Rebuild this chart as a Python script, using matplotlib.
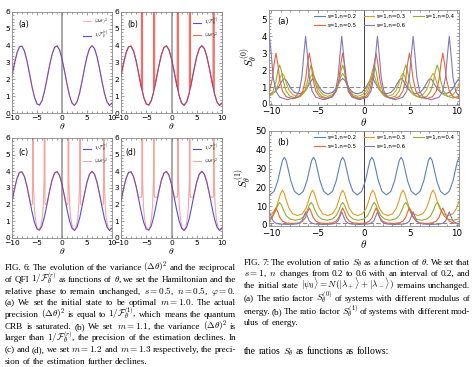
import matplotlib
matplotlib.use('Agg')
import matplotlib.pyplot as plt
from matplotlib.ticker import MultipleLocator

plt.rcParams['mathtext.fontset'] = 'cm'
plt.rcParams['font.family'] = 'DejaVu Sans'

# ---------------- FIG. 6 data: variance and 1/F versus theta ----------------
theta6 = [-10, -9.5, -9, -8.5, -8, -7.5, -7, -6.5, -6, -5.5, -5, -4.5, -4, -3.5, -3, -2.5, -2, -1.5, -1, -0.5,
          0, 0.5, 1, 1.5, 2, 2.5, 3, 3.5, 4, 4.5, 5, 5.5, 6, 6.5, 7, 7.5, 8, 8.5, 9, 9.5, 10]
inv_qfi = [2.19, 2.95, 3.57, 3.94, 3.97, 3.67, 3.09, 2.34, 1.57, 0.93, 0.54, 0.47, 0.73, 1.29, 2.03, 2.80, 3.47, 3.89, 3.99, 3.76,
           3.22, 2.50, 1.72, 1.04, 0.59, 0.45, 0.66, 1.16, 1.88, 2.65, 3.35, 3.83, 4.00, 3.83, 3.35, 2.65, 1.87, 1.16, 0.66, 0.45, 0.59]

# (a) m = 1.0 : variance equals 1/F
var_a = inv_qfi

# (b) m = 1.1
theta_b = [-10, -9.5, -9, -8.5, -8, -7.5, -7, -6.5, -6, -5.97, -5.93, -5.77, -5.73, -5.5, -5, -4.5, -4,
           -3.57, -3.53, -3.37, -3.33, -3, -2.5, -2, -1.5, -1, -0.5, 0, 0.5, 1, 1.13, 1.17, 1.33, 1.37,
           1.5, 2, 2.5, 3, 3.5, 3.53, 3.57, 3.73, 3.77, 4, 4.5, 5, 5.5, 6, 6.5, 7, 7.5, 8,
           8.23, 8.27, 8.43, 8.47, 8.5, 9, 9.5, 10]
var_b = [2.19, 2.95, 3.57, 3.94, 3.97, 3.67, 3.09, 2.34, 1.57, 1.53, 30, 30, 1.24, 0.93, 0.54, 0.47, 0.73,
         1.21, 30, 30, 1.54, 2.03, 2.80, 3.47, 3.89, 3.99, 3.76, 3.22, 2.50, 1.72, 1.54, 30, 30, 1.22,
         1.04, 0.59, 0.45, 0.66, 1.16, 1.20, 30, 30, 1.49, 1.88, 2.65, 3.35, 3.83, 4.00, 3.83, 3.35, 2.65, 1.87,
         1.54, 30, 30, 1.20, 1.16, 0.66, 0.45, 0.59]

# (c) m = 1.2
theta_c = [-10, -9.5, -9, -8.5, -8, -7.5, -7, -6.5, -6.28, -6.0, -5.9, -5.86, -5.84, -5.73, -5.55, -5.35,
           -5.0, -4.65, -4.3, -3.95, -3.75, -3.57, -3.46, -3.44, -3.4, -3.3, -3.02, -2.5, -2, -1.5, -1,
           -0.5, 0, 0.5, 0.82, 1.1, 1.2, 1.24, 1.26, 1.37, 1.55, 1.75, 2.1, 2.45, 2.8, 3.15, 3.35, 3.53,
           3.64, 3.66, 3.7, 3.8, 4.08, 4.5, 5, 5.5, 6, 6.5, 7, 7.5, 7.92, 8.2, 8.3, 8.34, 8.36, 8.47,
           8.65, 8.85, 9.2, 9.55, 10]
var_c = [2.19, 2.95, 3.57, 3.94, 3.97, 3.67, 3.09, 2.34, 2.0, 2.0, 2.1, 30, 30, 3.5, 1.9, 1.2,
         0.62, 0.5, 0.62, 1.2, 1.9, 3.5, 30, 30, 2.1, 2.0, 2.0, 2.80, 3.47, 3.89, 3.99,
         3.76, 3.22, 2.50, 2.0, 2.0, 2.1, 30, 30, 3.5, 1.9, 1.2, 0.62, 0.5, 0.62, 1.2, 1.9, 3.5,
         30, 30, 2.1, 2.0, 2.0, 2.65, 3.35, 3.83, 4.00, 3.83, 3.35, 2.65, 2.0, 2.0, 2.1, 30, 30, 3.5,
         1.9, 1.2, 0.62, 0.5, 0.62]

# (d) m = 1.3
theta_d = [-10, -9.5, -9, -8.5, -8, -7.5, -7, -6.57, -5.95, -5.88, -5.86, -5.84, -5.73, -5.55, -5.35,
           -5.0, -4.65, -4.3, -3.95, -3.75, -3.57, -3.46, -3.44, -3.42, -3.35, -2.73, -2.5, -2, -1.5,
           -1, -0.5, 0, 0.53, 1.15, 1.22, 1.24, 1.26, 1.37, 1.55, 1.75, 2.1, 2.45, 2.8, 3.15, 3.35,
           3.53, 3.64, 3.66, 3.68, 3.75, 4.37, 4.5, 5, 5.5, 6, 6.5, 7, 7.5, 7.63, 8.25, 8.32, 8.34,
           8.36, 8.47, 8.65, 8.85, 9.2, 9.55, 10]
var_d = [2.19, 2.95, 3.57, 3.94, 3.97, 3.67, 3.09, 2.45, 2.45, 2.6, 30, 30, 3.5, 1.9, 1.2,
         0.62, 0.5, 0.62, 1.2, 1.9, 3.5, 30, 30, 2.6, 2.45, 2.45, 2.80, 3.47, 3.89,
         3.99, 3.76, 3.22, 2.45, 2.45, 2.6, 30, 30, 3.5, 1.9, 1.2, 0.62, 0.5, 0.62, 1.2, 1.9,
         3.5, 30, 30, 2.6, 2.45, 2.45, 2.65, 3.35, 3.83, 4.00, 3.83, 3.35, 2.65, 2.45, 2.45, 2.6, 30,
         30, 3.5, 1.9, 1.2, 0.62, 0.5, 0.62]

# ---------------- FIG. 7 data: ratios S^(0) and S^(1) ----------------
n_labels = ['s=1,n=0.2', 's=1,n=0.3', 's=1,n=0.4', 's=1,n=0.5', 's=1,n=0.6']

th02 = [-10.18, -9.7, -9.3, -9.0, -8.8, -8.6, -8.4, -8.2, -7.9, -7.5,
        -7.02, -6.55, -6.15, -5.85, -5.65, -5.45, -5.25, -5.05, -4.75, -4.35,
        -3.88, -3.4, -3.0, -2.7, -2.5, -2.3, -2.1, -1.9, -1.6, -1.2,
        -0.72, -0.25, 0.15, 0.45, 0.65, 0.85, 1.05, 1.25, 1.55, 1.95,
        2.42, 2.9, 3.3, 3.6, 3.8, 4.0, 4.2, 4.4, 4.7, 5.1,
        5.58, 6.05, 6.45, 6.75, 6.95, 7.15, 7.35, 7.55, 7.85, 8.25,
        8.72, 9.2, 9.6, 9.9, 10.1, 10.3]
s0_02 = [0.6, 0.68, 0.92, 1.22, 1.41, 1.5, 1.41, 1.22, 0.92, 0.68,
         0.6, 0.68, 0.92, 1.22, 1.41, 1.5, 1.41, 1.22, 0.92, 0.68,
         0.6, 0.68, 0.92, 1.22, 1.41, 1.5, 1.41, 1.22, 0.92, 0.68,
         0.6, 0.68, 0.92, 1.22, 1.41, 1.5, 1.41, 1.22, 0.92, 0.68,
         0.6, 0.68, 0.92, 1.22, 1.41, 1.5, 1.41, 1.22, 0.92, 0.68,
         0.6, 0.68, 0.92, 1.22, 1.41, 1.5, 1.41, 1.22, 0.92, 0.68,
         0.6, 0.68, 0.92, 1.22, 1.41, 1.5]
s1_02 = [16, 17.9, 23.5, 30.1, 34.3, 36, 34.3, 30.1, 23.5, 17.9,
         16, 17.9, 23.5, 30.1, 34.3, 36, 34.3, 30.1, 23.5, 17.9,
         16, 17.9, 23.5, 30.1, 34.3, 36, 34.3, 30.1, 23.5, 17.9,
         16, 17.9, 23.5, 30.1, 34.3, 36, 34.3, 30.1, 23.5, 17.9,
         16, 17.9, 23.5, 30.1, 34.3, 36, 34.3, 30.1, 23.5, 17.9,
         16, 17.9, 23.5, 30.1, 34.3, 36, 34.3, 30.1, 23.5, 17.9,
         16, 17.9, 23.5, 30.1, 34.3, 36]

th03 = [-10.42, -9.9, -9.5, -9.2, -9.0, -8.8, -8.6, -8.4, -8.1, -7.7,
        -7.18, -6.65, -6.25, -5.95, -5.75, -5.55, -5.35, -5.15, -4.85, -4.45,
        -3.92, -3.4, -3.0, -2.7, -2.5, -2.3, -2.1, -1.9, -1.6, -1.2,
        -0.68, -0.15, 0.25, 0.55, 0.75, 0.95, 1.15, 1.35, 1.65, 2.05,
        2.58, 3.1, 3.5, 3.8, 4.0, 4.2, 4.4, 4.6, 4.9, 5.3,
        5.82, 6.35, 6.75, 7.05, 7.25, 7.45, 7.65, 7.85, 8.15, 8.55,
        9.08, 9.6, 10.0, 10.3]
s0_03 = [0.45, 0.55, 0.83, 1.26, 1.62, 1.8, 1.62, 1.26, 0.83, 0.55,
         0.45, 0.55, 0.83, 1.26, 1.62, 1.8, 1.62, 1.26, 0.83, 0.55,
         0.45, 0.55, 0.83, 1.26, 1.62, 1.8, 1.62, 1.26, 0.83, 0.55,
         0.45, 0.55, 0.83, 1.26, 1.62, 1.8, 1.62, 1.26, 0.83, 0.55,
         0.45, 0.55, 0.83, 1.26, 1.62, 1.8, 1.62, 1.26, 0.83, 0.55,
         0.45, 0.55, 0.83, 1.26, 1.62, 1.8, 1.62, 1.26, 0.83, 0.55,
         0.45, 0.55, 0.83, 1.26]
s1_03 = [5.0, 6.0, 9.0, 13.4, 16.8, 18.5, 16.8, 13.4, 9.0, 6.0,
         5.0, 6.0, 9.0, 13.4, 16.8, 18.5, 16.8, 13.4, 9.0, 6.0,
         5.0, 6.0, 9.0, 13.4, 16.8, 18.5, 16.8, 13.4, 9.0, 6.0,
         5.0, 6.0, 9.0, 13.4, 16.8, 18.5, 16.8, 13.4, 9.0, 6.0,
         5.0, 6.0, 9.0, 13.4, 16.8, 18.5, 16.8, 13.4, 9.0, 6.0,
         5.0, 6.0, 9.0, 13.4, 16.8, 18.5, 16.8, 13.4, 9.0, 6.0,
         5.0, 6.0, 9.0, 13.4]

th04 = [-10.8, -10.2, -9.8, -9.5, -9.3, -9.1, -8.9, -8.7, -8.4, -8.0,
        -7.4, -6.8, -6.4, -6.1, -5.9, -5.7, -5.5, -5.3, -5.0, -4.6,
        -4.0, -3.4, -3.0, -2.7, -2.5, -2.3, -2.1, -1.9, -1.6, -1.2,
        -0.6, 0.0, 0.4, 0.7, 0.9, 1.1, 1.3, 1.5, 1.8, 2.2,
        2.8, 3.4, 3.8, 4.1, 4.3, 4.5, 4.7, 4.9, 5.2, 5.6,
        6.2, 6.8, 7.2, 7.5, 7.7, 7.9, 8.1, 8.3, 8.6, 9.0,
        9.6, 10.2]
s0_04 = [0.35, 0.46, 0.76, 1.33, 1.94, 2.3, 1.94, 1.33, 0.76, 0.46,
         0.35, 0.46, 0.76, 1.33, 1.94, 2.3, 1.94, 1.33, 0.76, 0.46,
         0.35, 0.46, 0.76, 1.33, 1.94, 2.3, 1.94, 1.33, 0.76, 0.46,
         0.35, 0.46, 0.76, 1.33, 1.94, 2.3, 1.94, 1.33, 0.76, 0.46,
         0.35, 0.46, 0.76, 1.33, 1.94, 2.3, 1.94, 1.33, 0.76, 0.46,
         0.35, 0.46, 0.76, 1.33, 1.94, 2.3, 1.94, 1.33, 0.76, 0.46,
         0.35, 0.46]
s1_04 = [2.5, 3.2, 5.0, 8.0, 10.6, 12.0, 10.6, 8.0, 5.0, 3.2,
         2.5, 3.2, 5.0, 8.0, 10.6, 12.0, 10.6, 8.0, 5.0, 3.2,
         2.5, 3.2, 5.0, 8.0, 10.6, 12.0, 10.6, 8.0, 5.0, 3.2,
         2.5, 3.2, 5.0, 8.0, 10.6, 12.0, 10.6, 8.0, 5.0, 3.2,
         2.5, 3.2, 5.0, 8.0, 10.6, 12.0, 10.6, 8.0, 5.0, 3.2,
         2.5, 3.2, 5.0, 8.0, 10.6, 12.0, 10.6, 8.0, 5.0, 3.2,
         2.5, 3.2]

th05 = [-10.6, -10.2, -9.9, -9.7, -9.5, -9.3, -9.1, -8.8, -8.4,
        -7.7, -7.0, -6.6, -6.3, -6.1, -5.9, -5.7, -5.5, -5.2, -4.8,
        -4.1, -3.4, -3.0, -2.7, -2.5, -2.3, -2.1, -1.9, -1.6, -1.2,
        -0.5, 0.2, 0.6, 0.9, 1.1, 1.3, 1.5, 1.7, 2.0, 2.4,
        3.1, 3.8, 4.2, 4.5, 4.7, 4.9, 5.1, 5.3, 5.6, 6.0,
        6.7, 7.4, 7.8, 8.1, 8.3, 8.5, 8.7, 8.9, 9.2, 9.6,
        10.3]
s0_05 = [0.43, 0.76, 1.46, 2.36, 3.0, 2.36, 1.46, 0.76, 0.43,
         0.3, 0.43, 0.76, 1.46, 2.36, 3.0, 2.36, 1.46, 0.76, 0.43,
         0.3, 0.43, 0.76, 1.46, 2.36, 3.0, 2.36, 1.46, 0.76, 0.43,
         0.3, 0.43, 0.76, 1.46, 2.36, 3.0, 2.36, 1.46, 0.76, 0.43,
         0.3, 0.43, 0.76, 1.46, 2.36, 3.0, 2.36, 1.46, 0.76, 0.43,
         0.3, 0.43, 0.76, 1.46, 2.36, 3.0, 2.36, 1.46, 0.76, 0.43,
         0.3]
s1_05 = [1.1, 2.1, 4.1, 6.9, 9.0, 6.9, 4.1, 2.1, 1.1,
         0.8, 1.1, 2.1, 4.1, 6.9, 9.0, 6.9, 4.1, 2.1, 1.1,
         0.8, 1.1, 2.1, 4.1, 6.9, 9.0, 6.9, 4.1, 2.1, 1.1,
         0.8, 1.1, 2.1, 4.1, 6.9, 9.0, 6.9, 4.1, 2.1, 1.1,
         0.8, 1.1, 2.1, 4.1, 6.9, 9.0, 6.9, 4.1, 2.1, 1.1,
         0.8, 1.1, 2.1, 4.1, 6.9, 9.0, 6.9, 4.1, 2.1, 1.1,
         0.8]

th06 = [-10.2, -10.0, -9.8, -9.5, -9.1,
        -8.25, -7.4, -7.0, -6.7, -6.5, -6.3, -6.1, -5.9, -5.6, -5.2,
        -4.35, -3.5, -3.1, -2.8, -2.6, -2.4, -2.2, -2.0, -1.7, -1.3,
        -0.48, 0.35, 0.75, 1.05, 1.25, 1.45, 1.65, 1.85, 2.15, 2.55,
        3.38, 4.2, 4.6, 4.9, 5.1, 5.3, 5.5, 5.7, 6.0, 6.4,
        7.25, 8.1, 8.5, 8.8, 9.0, 9.2, 9.4, 9.6, 9.9, 10.3]
s0_06 = [4.0, 2.87, 1.59, 0.75, 0.40,
         0.25, 0.40, 0.75, 1.59, 2.87, 4.0, 2.87, 1.59, 0.75, 0.40,
         0.25, 0.40, 0.75, 1.59, 2.87, 4.0, 2.87, 1.59, 0.75, 0.40,
         0.25, 0.40, 0.75, 1.59, 2.87, 4.0, 2.87, 1.59, 0.75, 0.40,
         0.25, 0.40, 0.75, 1.59, 2.87, 4.0, 2.87, 1.59, 0.75, 0.40,
         0.25, 0.40, 0.75, 1.59, 2.87, 4.0, 2.87, 1.59, 0.75, 0.40]
s1_06 = [7.0, 4.42, 2.14, 0.94, 0.48,
         0.3, 0.48, 0.94, 2.14, 4.42, 7.0, 4.42, 2.14, 0.94, 0.48,
         0.3, 0.48, 0.94, 2.14, 4.42, 7.0, 4.42, 2.14, 0.94, 0.48,
         0.3, 0.48, 0.94, 2.14, 4.42, 7.0, 4.42, 2.14, 0.94, 0.48,
         0.3, 0.48, 0.94, 2.14, 4.42, 7.0, 4.42, 2.14, 0.94, 0.48,
         0.3, 0.48, 0.94, 2.14, 4.42, 7.0, 4.42, 2.14, 0.94, 0.48]

# ---------------- captions ----------------
cap6 = [r"FIG. 6: The evolution of the variance $(\Delta\theta)^2$ and the reciprocal",
        r"of QFI $1/\mathcal{F}_\theta^{(r)}$ as functions of $\theta$, we set the Hamiltonian and the",
        r"relative phase to remain unchanged, $s = 0.5$, $n = 0.5$, $\varphi = 0$.",
        r"(a) We set the initial state to be optimal $m = 1.0$. The actual",
        r"precision $(\Delta\theta)^2$ is equal to $1/\mathcal{F}_\theta^{(1)}$, which means the quantum",
        r"CRB is saturated. (b) We set $m = 1.1$, the variance $(\Delta\theta)^2$ is",
        r"larger than $1/\mathcal{F}_\theta^{(r)}$, the precision of the estimation declines. In",
        r"(c) and (d), we set $m = 1.2$ and $m = 1.3$ respectively, the preci-",
        r"sion of the estimation further declines."]
cap6_y = [270, 281.8, 293.5, 305.2, 317, 328.8, 340.5, 352.2, 364]

cap7 = [r"FIG. 7: The evolution of ratio $S_\theta$ as a function of $\theta$. We set that",
        r"$s = 1$, $n$ changes from 0.2 to 0.6 with an interval of 0.2, and",
        r"the initial state $|\psi_0\rangle = N(|\lambda_+\rangle + |\lambda_-\rangle)$ remains unchanged.",
        r"(a) The ratio factor $S_\theta^{(0)}$ of systems with different modulus of",
        r"energy. (b) The ratio factor $S_\theta^{(1)}$ of systems with different mod-",
        r"ulus of energy."]
cap7_y = [265, 276, 287.5, 301, 314.5, 325]

W, H = 474, 367
BLUE6 = '#4f4fdc'
RED6 = '#e8392e'
COLS7 = ['#5E81B5', '#E19C24', '#8FB032', '#EB6235', '#8778B3']

fig = plt.figure(figsize=(W / 100, H / 100), dpi=100)


def box(l, t, r, b):
    return [l / W, 1 - b / H, (r - l) / W, (b - t) / H]


def style(ax, ymaj, ymin, size):
    ax.xaxis.set_major_locator(MultipleLocator(5))
    ax.xaxis.set_minor_locator(MultipleLocator(1))
    ax.yaxis.set_major_locator(MultipleLocator(ymaj))
    ax.yaxis.set_minor_locator(MultipleLocator(ymin))
    ax.tick_params(which='both', direction='in', top=True, right=True, color='#777777', width=0.5)
    ax.tick_params(which='major', length=2.5, labelsize=size, pad=1.5)
    ax.tick_params(which='minor', length=1.2)
    for s in ax.spines.values():
        s.set_color('#888888')
        s.set_linewidth(0.6)


# FIG. 6 panels
panels6 = [('(a)', var_a, theta6, box(12, 12, 112, 113), 0.35, True, (0.12, 0.88)),
           ('(b)', var_b, theta_b, box(121, 12, 222, 113), 0.75, False, (0.12, 0.88)),
           ('(c)', var_c, theta_c, box(12, 138, 112, 238), 0.45, False, (0.11, 0.85)),
           ('(d)', var_d, theta_d, box(121, 138, 222, 238), 0.45, False, (0.10, 0.85))]
for tag, red_vals, red_theta, pos, alpha, red_first, tagpos in panels6:
    ax = fig.add_axes(pos)
    ax.axvline(0, color='#9a9a9a', lw=1.2, zorder=0)
    lb, = ax.plot(theta6, inv_qfi, color=BLUE6, lw=0.8, label=r'$1/\mathcal{F}_\theta^{(r)}$')
    lr, = ax.plot(red_theta, red_vals, color=RED6, lw=0.8, alpha=alpha, label=r'$(\Delta\theta)^2$')
    ax.set_xlim(-10, 10)
    ax.set_ylim(0, 6)
    style(ax, 1, 0.2, 5.4)
    ax.set_xlabel(r'$\theta$', fontsize=7, labelpad=0)
    ax.text(*tagpos, tag, transform=ax.transAxes, fontsize=5.5, ha='center', va='center')
    hs = [lr, lb] if red_first else [lb, lr]
    ax.legend(handles=hs, loc='upper right', fontsize=3.5, frameon=False, handlelength=1.8,
              handletextpad=0.5, labelspacing=0.5, borderaxespad=0.4)

# FIG. 7 panels
series7 = [(th02, s0_02, s1_02), (th03, s0_03, s1_03), (th04, s0_04, s1_04),
           (th05, s0_05, s1_05), (th06, s0_06, s1_06)]
for k, (pos, ylim, ymaj, ymin, ylab, tag) in enumerate([
        (box(269, 10, 459, 105.3), (-0.08, 5.55), 1, 0.2, r'$S_\theta^{(0)}$', '(a)'),
        (box(269, 131, 459, 226.5), (-0.8, 50), 10, 2, r'$S_\theta^{(1)}$', '(b)')]):
    ax = fig.add_axes(pos)
    ax.axvline(0, color='#222222', lw=0.6, zorder=1)
    ax.axhline(1, color='#8a8a8a', lw=0.8, ls=(0, (4, 2)), zorder=1)
    lines = []
    for c, (th, v0, v1) in enumerate(series7):
        ln, = ax.plot(th, v0 if k == 0 else v1, color=COLS7[c], lw=0.8, label=n_labels[c], zorder=2)
        lines.append(ln)
    ax.set_xlim(-10.25, 10.25)
    ax.set_ylim(*ylim)
    style(ax, ymaj, ymin, 6.3)
    ax.set_xlabel(r'$\theta$', fontsize=8, labelpad=0)
    ax.set_ylabel(ylab, fontsize=8, labelpad=1)
    ax.text(0.075, 0.88, tag, transform=ax.transAxes, fontsize=6, ha='center', va='center')
    order = [0, 3, 1, 4, 2]
    ax.legend(handles=[lines[i] for i in order], ncol=3, loc='upper right', fontsize=3.9,
              frameon=False, handlelength=2.0, handletextpad=0.5, columnspacing=1.2,
              labelspacing=0.7, borderaxespad=0.3)

# captions, justified word by word
renderer = fig.canvas.get_renderer()


def split_words(s):
    out, cur, inmath = [], '', False
    for ch in s:
        if ch == '$':
            inmath = not inmath
        if ch == ' ' and not inmath:
            if cur:
                out.append(cur)
            cur = ''
        else:
            cur += ch
    if cur:
        out.append(cur)
    return out


def put_line(txt, x0, x1, y, size, justify):
    words = split_words(txt)
    objs = [fig.text(0, 1 - y / H, w, fontsize=size, family='Liberation Serif', va='baseline')
            for w in words]
    widths = [o.get_window_extent(renderer).width for o in objs]
    gap = size * 100 / 72 * 0.25
    if justify and len(words) > 1:
        gap = max(1.0, (x1 - x0 - sum(widths)) / (len(words) - 1))
    x = x0
    for o, w in zip(objs, widths):
        o.set_x(x / W)
        x += w + gap


CAP_SIZE = 6.6
for i, (line, y) in enumerate(zip(cap6, cap6_y)):
    put_line(line, 5, 236, y, CAP_SIZE, i < len(cap6) - 1)
for i, (line, y) in enumerate(zip(cap7, cap7_y)):
    put_line(line, 244, 470, y, CAP_SIZE, i < len(cap7) - 1)
put_line(r"the ratios $S_\theta$ as functions as follows:", 244, 470, 354, CAP_SIZE + 0.4, False)

fig.savefig('out.png', dpi=100)
